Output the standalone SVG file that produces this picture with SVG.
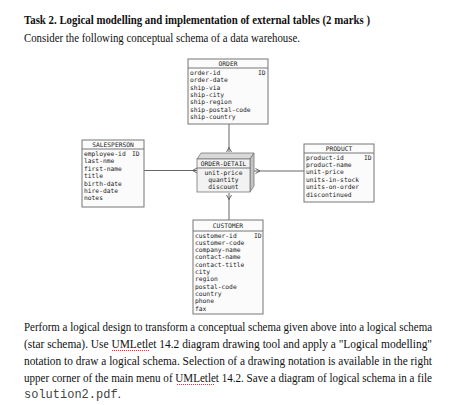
<svg xmlns="http://www.w3.org/2000/svg" width="474" height="405" viewBox="0 0 474 405">
<style>
.box{fill:#fbfbfb;stroke:#777;stroke-width:1}
.sep{stroke:#777;stroke-width:1}
.m{font-family:"DejaVu Sans Mono","Liberation Mono",monospace;font-size:6.3px;fill:#222}
.h{font-family:"DejaVu Sans Mono","Liberation Mono",monospace;font-size:6.3px;fill:#222;text-anchor:middle}
.c{fill:none;stroke:#555;stroke-width:0.9}
.t{font-family:"Liberation Serif","Times New Roman",serif;font-size:12.5px;fill:#111}
.p{font-family:"Liberation Serif","Times New Roman",serif;font-size:12px;fill:#111}
.sq{stroke:#d33;stroke-width:1;stroke-dasharray:1 1}
</style>
<rect width="474" height="405" fill="#fff"/>
<text class="t" x="24" y="24" font-weight="bold" textLength="346" lengthAdjust="spacingAndGlyphs">Task 2. Logical modelling and implementation of external tables (2 marks )</text>
<text class="t" x="24" y="42" textLength="276" lengthAdjust="spacingAndGlyphs">Consider the following conceptual schema of a data warehouse.</text>

<g id="connectors">
<line class="c" x1="229" y1="124" x2="229" y2="152"/>
<path class="c" d="M226.5,152 L229,147.5 L231.5,152"/>
<line class="c" x1="229" y1="193" x2="229" y2="220"/>
<path class="c" d="M226.5,195 L229,199.5 L231.5,195"/>
<line class="c" x1="144" y1="170.5" x2="197" y2="170.5"/>
<path class="c" d="M197,168 L192.5,170.5 L197,173"/>
<line class="c" x1="254" y1="171" x2="304" y2="171"/>
<path class="c" d="M255.5,168.5 L260,171 L255.5,173.5"/>
</g>

<g id="order">
<rect class="box" x="188" y="59" width="80" height="65"/>
<line class="sep" x1="188" y1="68" x2="268" y2="68"/>
<text class="h" x="228" y="65.5">ORDER</text>
<text class="m" x="190" y="75">order-id</text>
<text class="m" x="258" y="75">ID</text>
<text class="m" x="190" y="82.3">order-date</text>
<text class="m" x="190" y="89.6">ship-via</text>
<text class="m" x="190" y="96.9">ship-city</text>
<text class="m" x="190" y="104.2">ship-region</text>
<text class="m" x="190" y="111.5">ship-postal-code</text>
<text class="m" x="190" y="118.8">ship-country</text>
</g>

<g id="salesperson">
<rect class="box" x="82" y="140" width="62" height="67"/>
<line class="sep" x1="82" y1="149" x2="144" y2="149"/>
<text class="h" x="113" y="146.5">SALESPERSON</text>
<text class="m" x="84" y="156">employee-id</text>
<text class="m" x="132" y="156">ID</text>
<text class="m" x="84" y="163.4">last-nme</text>
<text class="m" x="84" y="170.8">first-name</text>
<text class="m" x="84" y="178.2">title</text>
<text class="m" x="84" y="185.6">birth-date</text>
<text class="m" x="84" y="193">hire-date</text>
<text class="m" x="84" y="200.4">notes</text>
</g>

<g id="order-detail">
<polygon points="197,159 201,153 254,153 250,159" fill="#d8d8d8" stroke="#777" stroke-width="0.8"/>
<polygon points="250,159 254,153 254,186 250,192" fill="#c4c4c4" stroke="#777" stroke-width="0.8"/>
<rect x="197" y="159" width="53" height="33" fill="#f2f2f2" stroke="#777" stroke-width="0.8"/>
<line class="sep" x1="197" y1="168" x2="250" y2="168"/>
<text class="h" x="223.5" y="165.5">ORDER-DETAIL</text>
<text class="h" x="223.5" y="174.5">unit-price</text>
<text class="h" x="223.5" y="181.5">quantity</text>
<text class="h" x="223.5" y="188.5">discount</text>
</g>

<g id="product">
<rect class="box" x="304" y="144" width="70" height="58"/>
<line class="sep" x1="304" y1="153" x2="374" y2="153"/>
<text class="h" x="339" y="150.5">PRODUCT</text>
<text class="m" x="306" y="159.5">product-id</text>
<text class="m" x="364" y="159.5">ID</text>
<text class="m" x="306" y="166.9">product-name</text>
<text class="m" x="306" y="174.3">unit-price</text>
<text class="m" x="306" y="181.7">units-in-stock</text>
<text class="m" x="306" y="189.1">units-on-order</text>
<text class="m" x="306" y="196.5">discontinued</text>
</g>

<g id="customer">
<rect class="box" x="193" y="220" width="70" height="94"/>
<line class="sep" x1="193" y1="231" x2="263" y2="231"/>
<text class="h" x="228" y="228">CUSTOMER</text>
<text class="m" x="195" y="237.5">customer-id</text>
<text class="m" x="254" y="237.5">ID</text>
<text class="m" x="195" y="244.8">customer-code</text>
<text class="m" x="195" y="252.1">company-name</text>
<text class="m" x="195" y="259.4">contact-name</text>
<text class="m" x="195" y="266.7">contact-title</text>
<text class="m" x="195" y="274">city</text>
<text class="m" x="195" y="281.3">region</text>
<text class="m" x="195" y="288.6">postal-code</text>
<text class="m" x="195" y="295.9">country</text>
<text class="m" x="195" y="303.2">phone</text>
<text class="m" x="195" y="310.5">fax</text>
</g>

<text class="p" x="24" y="331" textLength="408" lengthAdjust="spacingAndGlyphs">Perform a logical design to transform a conceptual schema given above into a logical schema</text>
<text class="p" x="24" y="348" textLength="408" lengthAdjust="spacingAndGlyphs">(star schema). Use UMLetlet 14.2 diagram drawing tool and apply a "Logical modelling"</text>
<text class="p" x="24" y="365" textLength="408" lengthAdjust="spacingAndGlyphs">notation to draw a logical schema. Selection of a drawing notation is available in the right</text>
<text class="p" x="24" y="382" textLength="408" lengthAdjust="spacingAndGlyphs">upper corner of the main menu of UMLetlet 14.2. Save a diagram of logical schema in a file</text>
<text x="24" y="398" font-family="'Liberation Mono','Courier New',monospace" font-size="12" fill="#444">solution2.pdf<tspan font-family="'Liberation Serif',serif" fill="#111">.</tspan></text>
<line class="sq" x1="112" y1="350.5" x2="150" y2="350.5"/>
<line class="sq" x1="177" y1="384.5" x2="215" y2="384.5"/>
</svg>
